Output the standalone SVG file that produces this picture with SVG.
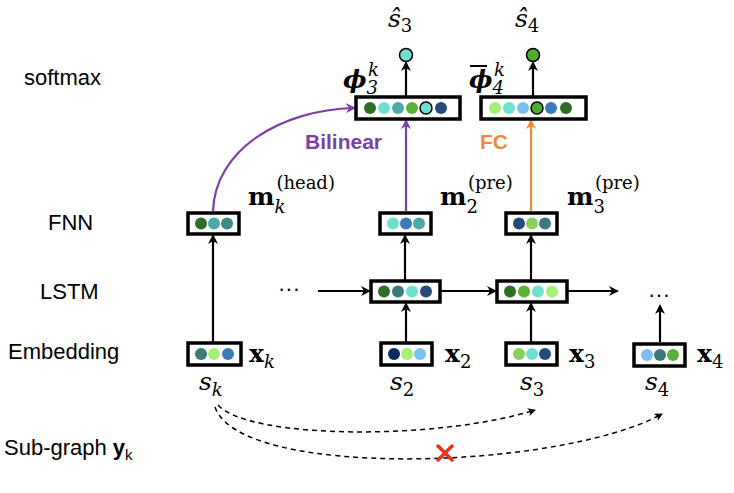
<svg xmlns="http://www.w3.org/2000/svg" width="734" height="493" viewBox="0 0 734 493">
<style>
.b{fill:#fff;stroke:#000;stroke-width:3.5}
.l{font-family:"Liberation Sans",Arial,sans-serif;font-size:22px}
.m{font-family:"DejaVu Serif","Liberation Serif",serif;font-size:25px}
.ms{font-family:"DejaVu Serif","Liberation Serif",serif;font-size:18px}
.a{stroke:#000;stroke-width:2.2;fill:none;marker-end:url(#ah)}
.d{stroke:#000;stroke-width:1.5;fill:none;stroke-dasharray:5,4;marker-end:url(#ah2)}
</style>
<defs>
<marker id="ah" markerWidth="10" markerHeight="10" refX="8" refY="5" orient="auto" markerUnits="userSpaceOnUse" viewBox="0 0 10 10"><path d="M0,0 L10,5 L0,10 L3,5z" fill="#000"/></marker>
<marker id="ahp" markerWidth="10" markerHeight="10" refX="8" refY="5" orient="auto" markerUnits="userSpaceOnUse" viewBox="0 0 10 10"><path d="M0,0 L10,5 L0,10 L3,5z" fill="#7b3fa8"/></marker>
<marker id="aho" markerWidth="10" markerHeight="10" refX="8" refY="5" orient="auto" markerUnits="userSpaceOnUse" viewBox="0 0 10 10"><path d="M0,0 L10,5 L0,10 L3,5z" fill="#f08a3a"/></marker>
<marker id="ah2" markerWidth="8" markerHeight="8" refX="7" refY="4" orient="auto" markerUnits="userSpaceOnUse" viewBox="0 0 8 8"><path d="M0,0 L8,4 L0,8 L2,4z" fill="#000"/></marker>
</defs>
<g id="labels">
<text class="l" x="24" y="85">softmax</text>
<text class="l" x="48" y="230">FNN</text>
<text class="l" x="40" y="299">LSTM</text>
<text class="l" x="8" y="359">Embedding</text>
<text class="l" x="4" y="455">Sub-graph <tspan font-weight="bold">y</tspan><tspan font-size="15" dy="5">k</tspan></text>
</g>
<g id="connectors">
<line class="a" x1="406" y1="96" x2="406" y2="63"/>
<line class="a" x1="533" y1="96" x2="533" y2="63"/>
<line x1="406" y1="211" x2="406" y2="121" stroke="#7b3fa8" stroke-width="2.2" marker-end="url(#ahp)"/>
<line x1="531" y1="211" x2="531" y2="121" stroke="#f08a3a" stroke-width="2.2" marker-end="url(#aho)"/>
<path d="M213,211 C215,150 280,110 354,108" stroke="#7b3fa8" stroke-width="2.2" fill="none" marker-end="url(#ahp)"/>
<line class="a" x1="213" y1="342" x2="213" y2="236"/>
<line class="a" x1="405" y1="280" x2="405" y2="236"/>
<line class="a" x1="531" y1="280" x2="531" y2="236"/>
<line class="a" x1="406" y1="342" x2="406" y2="304"/>
<line class="a" x1="531" y1="342" x2="531" y2="304"/>
<line class="a" x1="660" y1="342" x2="660" y2="306"/>
<line class="a" x1="318" y1="291" x2="369" y2="291"/>
<line class="a" x1="441" y1="291" x2="495" y2="291"/>
<line class="a" x1="568" y1="291" x2="617" y2="291"/>
<path class="d" d="M218,405 C250,440 440,440 535,410"/>
<path class="d" d="M215,407 C240,480 560,470 662,414"/>
</g>
<g id="cross" stroke="#e8321e" stroke-width="3.5" stroke-linecap="round"><line x1="438" y1="446" x2="452" y2="460"/><line x1="452" y1="446" x2="438" y2="460"/></g>
<g id="text-labels">
<text x="305" y="149" font-family="Liberation Sans,Arial,sans-serif" font-size="21" font-weight="bold" fill="#7b3fa8">Bilinear</text>
<text x="480" y="149" font-family="Liberation Sans,Arial,sans-serif" font-size="21" font-weight="bold" fill="#f08a3a">FC</text>
<text class="m" x="248" y="205" font-weight="bold">m<tspan class="ms" font-style="italic" font-weight="normal" dy="8">k</tspan><tspan class="ms" font-weight="normal" dx="-9" dy="-24">(head)</tspan></text>
<text class="m" x="440" y="205" font-weight="bold">m<tspan class="ms" font-weight="normal" dy="8">2</tspan><tspan class="ms" font-weight="normal" dx="-10" dy="-24">(pre)</tspan></text>
<text class="m" x="567" y="205" font-weight="bold">m<tspan class="ms" font-weight="normal" dy="8">3</tspan><tspan class="ms" font-weight="normal" dx="-10" dy="-24">(pre)</tspan></text>
<text class="m" x="343" y="88" font-weight="bold" font-style="italic">ϕ<tspan class="ms" font-weight="normal" dy="6">3</tspan><tspan class="ms" font-weight="normal" dx="-10" dy="-18">k</tspan></text>
<text class="m" x="469" y="88" font-weight="bold" font-style="italic">ϕ<tspan class="ms" font-weight="normal" dy="6">4</tspan><tspan class="ms" font-weight="normal" dx="-10" dy="-18">k</tspan></text>
<line x1="470" y1="66" x2="487" y2="66" stroke="#000" stroke-width="2"/>
<text class="m" x="388" y="27" font-style="italic">ŝ<tspan class="ms" font-style="normal" dy="5">3</tspan></text>
<text class="m" x="515" y="27" font-style="italic">ŝ<tspan class="ms" font-style="normal" dy="5">4</tspan></text>
<text class="m" x="199" y="390" font-style="italic">s<tspan class="ms" dy="6">k</tspan></text>
<text class="m" x="390" y="390" font-style="italic">s<tspan class="ms" font-style="normal" dy="6">2</tspan></text>
<text class="m" x="520" y="390" font-style="italic">s<tspan class="ms" font-style="normal" dy="6">3</tspan></text>
<text class="m" x="645" y="390" font-style="italic">s<tspan class="ms" font-style="normal" dy="6">4</tspan></text>
<text class="m" x="249" y="362" font-weight="bold">x<tspan class="ms" font-style="italic" font-weight="normal" dy="6">k</tspan></text>
<text class="m" x="445" y="362" font-weight="bold">x<tspan class="ms" font-weight="normal" dy="6">2</tspan></text>
<text class="m" x="569" y="362" font-weight="bold">x<tspan class="ms" font-weight="normal" dy="6">3</tspan></text>
<text class="m" x="697" y="362" font-weight="bold">x<tspan class="ms" font-weight="normal" dy="6">4</tspan></text>
<text class="l" x="278" y="296">···</text>
<text class="l" x="648" y="302">···</text>
</g>
<g id="out3"><circle cx="406" cy="55" r="6.5" fill="#6fe0d0" stroke="#000" stroke-width="1.5"/></g>
<g id="out4"><circle cx="533" cy="55" r="6.5" fill="#4fae30" stroke="#000" stroke-width="1.5"/></g>
<g id="softmax3"><rect class="b" x="356" y="97" width="104" height="22"/>
<circle cx="370" cy="108" r="6" fill="#2f6e27"/><circle cx="384" cy="108" r="6" fill="#6fe0d0"/><circle cx="398" cy="108" r="6" fill="#4fa8a8"/><circle cx="412" cy="108" r="6" fill="#5aaf3a"/><circle cx="426" cy="108" r="6" fill="#6fe0d0" stroke="#000" stroke-width="1.5"/><circle cx="441" cy="108" r="6" fill="#264a7a"/></g>
<g id="softmax4"><rect class="b" x="481" y="97" width="105" height="22"/>
<circle cx="495" cy="108" r="6" fill="#a6f07a"/><circle cx="509" cy="108" r="6" fill="#6fe0d0"/><circle cx="523" cy="108" r="6" fill="#7ac0f0"/><circle cx="537" cy="108" r="6" fill="#4fae30" stroke="#000" stroke-width="1.5"/><circle cx="551" cy="108" r="6" fill="#3a7ab8"/><circle cx="566" cy="108" r="6" fill="#2f6e27"/></g>
<g id="fnnk"><rect class="b" x="188" y="213" width="51" height="21"/><circle cx="201" cy="223.5" r="6" fill="#2f6e27"/><circle cx="214" cy="223.5" r="6" fill="#4fa8a8"/><circle cx="227" cy="223.5" r="6" fill="#3a8a80"/></g>
<g id="fnn2"><rect class="b" x="380" y="213" width="51" height="21"/><circle cx="393" cy="223.5" r="6" fill="#6fe0d0"/><circle cx="406" cy="223.5" r="6" fill="#3a7ab8"/><circle cx="419" cy="223.5" r="6" fill="#4fa8a8"/></g>
<g id="fnn3"><rect class="b" x="506" y="213" width="51" height="21"/><circle cx="519" cy="223.5" r="6" fill="#264a7a"/><circle cx="532" cy="223.5" r="6" fill="#8ad060"/><circle cx="545" cy="223.5" r="6" fill="#3a7a78"/></g>
<g id="lstm2"><rect class="b" x="371" y="281" width="69" height="21"/><circle cx="384" cy="291.5" r="6" fill="#2f6e27"/><circle cx="398" cy="291.5" r="6" fill="#3a7a78"/><circle cx="412" cy="291.5" r="6" fill="#6fe0d0"/><circle cx="426" cy="291.5" r="6" fill="#264a7a"/></g>
<g id="lstm3"><rect class="b" x="497" y="281" width="70" height="21"/><circle cx="510" cy="291.5" r="6" fill="#2f6e27"/><circle cx="524" cy="291.5" r="6" fill="#5aaf3a"/><circle cx="538" cy="291.5" r="6" fill="#6fe0d0"/><circle cx="552" cy="291.5" r="6" fill="#a6f07a"/></g>
<g id="embk"><rect class="b" x="188" y="343" width="53" height="22"/><circle cx="201" cy="354" r="6" fill="#3a7a78"/><circle cx="214" cy="354" r="6" fill="#a6f07a"/><circle cx="228" cy="354" r="6" fill="#3a7ab8"/></g>
<g id="emb2"><rect class="b" x="381" y="343" width="51" height="22"/><circle cx="394" cy="354" r="6" fill="#0a2a60"/><circle cx="407" cy="354" r="6" fill="#a6f07a"/><circle cx="420" cy="354" r="6" fill="#7ac0f0"/></g>
<g id="emb3"><rect class="b" x="506" y="343" width="51" height="22"/><circle cx="519" cy="354" r="6" fill="#8ad060"/><circle cx="532" cy="354" r="6" fill="#6fe0d0"/><circle cx="545" cy="354" r="6" fill="#264a7a"/></g>
<g id="emb4"><rect class="b" x="634" y="344" width="51" height="22"/><circle cx="647" cy="355" r="6" fill="#7ac0f0"/><circle cx="660" cy="355" r="6" fill="#3a7a78"/><circle cx="673" cy="355" r="6" fill="#5aaf3a"/></g>
</svg>
